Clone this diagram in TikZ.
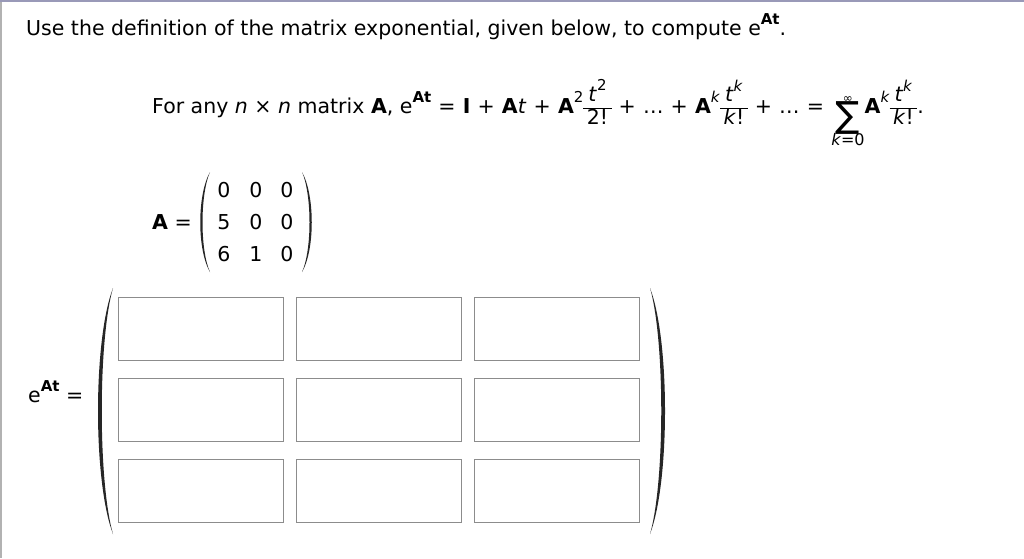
\documentclass[tikz,border=0pt]{standalone}
\usepackage{fontspec}
\setmainfont{DejaVu Sans}
\newcommand{\bA}{\textbf{A}}
\newcommand{\supr}[1]{\raisebox{0.5em}{\fontsize{15}{15}\selectfont #1}}
\newcommand{\fr}[2]{\raisebox{0.1em}{\renewcommand{\arraystretch}{0.95}\setlength{\arrayrulewidth}{0.8pt}\begin{tabular}{@{\,}c@{\,}}#1\\\hline #2\end{tabular}}}
\newcommand{\gap}{\hspace{0.35em}}
\tikzset{cell/.style={draw=black!45,line width=1.2pt,minimum width=165pt,minimum height=63pt,inner sep=0pt},
 txt/.style={inner sep=0pt,anchor=base west,font=\fontsize{20.5}{24}\selectfont},
 paren/.style={fill=black!85,draw=none}}
\begin{document}
\begin{tikzpicture}[x=1pt,y=-1pt]
\useasboundingbox (0,0) rectangle (1024,558);
\fill[white] (0,0) rectangle (1024,558);
\draw[draw=black!30,line width=2pt] (1,0) -- (1,558);
\draw[draw=blue!30!black!40,line width=2pt] (0,1) -- (1024,1);
\node[txt] (title) at (26,35) {Use the definition of the matrix exponential, given below, to compute e\supr{\textbf{At}}.};
\node[txt] (def) at (152,113) {For any \textit{n} × \textit{n} matrix \bA, e\supr{\textbf{At}}\gap=\gap\textbf{I}\gap+\gap\bA\textit{t}\gap+\gap\bA\supr{2}\fr{\textit{t}\supr{2}}{2!}\gap+\gap\ldots\gap+\gap\bA\supr{\textit{k}}\fr{\textit{t}\supr{\textit{k}}}{\textit{k}!}\gap+\gap\ldots\gap=\gap\raisebox{-0.55em}{\begin{tabular}{@{}c@{}}{\fontsize{12}{12}\selectfont ∞}\\[-8pt]{\fontsize{36}{36}\selectfont ∑}\\[-6pt]{\fontsize{16}{16}\selectfont\textit{k}=0}\end{tabular}}\bA\supr{\textit{k}}\fr{\textit{t}\supr{\textit{k}}}{\textit{k}!}.};
\node[txt] (Aeq) at (152,229) {\bA{} =};
\node[txt,anchor=base] (a11) at (224,197) {0};
\node[txt,anchor=base] (a12) at (256,197) {0};
\node[txt,anchor=base] (a13) at (287,197) {0};
\node[txt,anchor=base] (a21) at (224,229) {5};
\node[txt,anchor=base] (a22) at (256,229) {0};
\node[txt,anchor=base] (a23) at (287,229) {0};
\node[txt,anchor=base] (a31) at (224,261) {6};
\node[txt,anchor=base] (a32) at (256,261) {1};
\node[txt,anchor=base] (a33) at (287,261) {0};
\fill[paren] (210,172) .. controls (197,195) and (197,250) .. (210,272) .. controls (200,250) and (200,195) .. (210,172);
\fill[paren] (302,172) .. controls (315,195) and (315,250) .. (302,272) .. controls (312,250) and (312,195) .. (302,172);
\node[txt] (eAt) at (28,402) {e\supr{\textbf{At}} =};
\fill[paren] (113,288) .. controls (93,340) and (93,482) .. (113,534) .. controls (98,482) and (98,340) .. (113,288);
\fill[paren] (650,288) .. controls (670,340) and (670,482) .. (650,534) .. controls (665,482) and (665,340) .. (650,288);
\foreach \i/\x in {1/118,2/296,3/474}{
 \foreach \j/\y in {1/297,2/378,3/459}{
  \node[cell,anchor=north west] (c\i\j) at (\x,\y) {};
 }}
\end{tikzpicture}
\end{document}
